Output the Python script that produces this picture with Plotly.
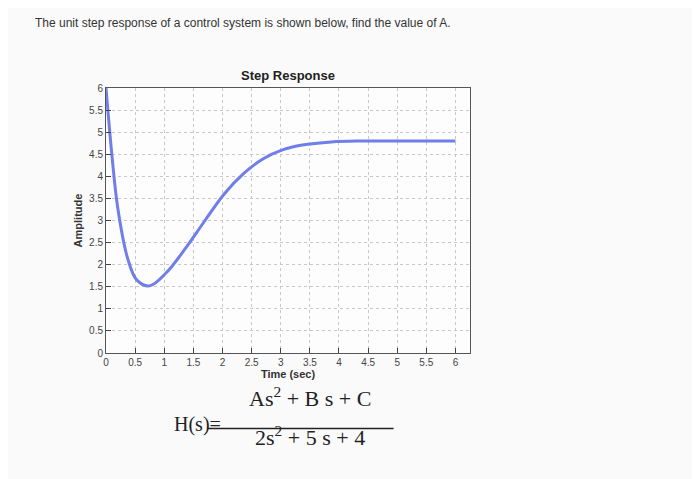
import plotly.graph_objects as go

t = [0, 0.1, 0.2, 0.37, 0.53, 0.75, 1.03, 1.37, 1.7, 2.03, 2.37, 2.7, 3.03, 3.37, 3.87, 4.37, 5.03, 6.0]
y = [6.0, 4.5, 3.3, 2.15, 1.65, 1.52, 1.81, 2.38, 3.0, 3.6, 4.07, 4.4, 4.6, 4.71, 4.78, 4.8, 4.8, 4.8]
ticks = [0, 0.5, 1, 1.5, 2, 2.5, 3, 3.5, 4, 4.5, 5, 5.5, 6]
ticklabels = ["0", "0.5", "1", "1.5", "2", "2.5", "3", "3.5", "4", "4.5", "5", "5.5", "6"]

fig = go.Figure(go.Scatter(x=t, y=y, mode="lines", line=dict(color="#6f7ee8", width=3, shape="spline")))
ax = dict(tickvals=ticks, ticktext=ticklabels, showgrid=True, gridcolor="#c8c8c8", griddash="dot",
          showline=True, linecolor="#555", mirror=True, zeroline=False, ticks="inside",
          tickfont=dict(size=10, color="#444", family="Liberation Sans"))
fig.update_layout(
    width=700, height=479, margin=dict(l=98, r=238, t=80, b=134),
    paper_bgcolor="#fafafa", plot_bgcolor="#fdfdfd", showlegend=False,
    xaxis=dict(range=[0, 6.25], title=dict(text="<b>Time (sec)</b>", font=dict(size=11, color="#333"), standoff=2), **ax),
    yaxis=dict(range=[0, 6], title=dict(text="<b>Amplitude</b>", font=dict(size=11, color="#333"), standoff=4), **ax),
    font=dict(family="Liberation Sans"),
    annotations=[
        dict(text="The unit step response of a control system is shown below, find the value of A.", x=-0.2, y=1.28,
             xref="paper", yref="paper", showarrow=False, xanchor="left", yanchor="top", font=dict(size=12, color="#333")),
        dict(text="<b>Step Response</b>", x=0.5, y=1.01, xref="paper", yref="paper", showarrow=False, yanchor="bottom",
             font=dict(size=13, color="#222")),
        dict(text="H(s)=", x=0.18, y=-0.32, xref="paper", yref="paper", showarrow=False,
             font=dict(size=20, color="#222", family="Liberation Serif")),
        dict(text="As<sup>2</sup> + B s + C", x=0.56, y=-0.225, xref="paper", yref="paper", showarrow=False,
             font=dict(size=22, color="#222", family="Liberation Serif")),
        dict(text="2s<sup>2</sup> + 5 s + 4", x=0.56, y=-0.375, xref="paper", yref="paper", showarrow=False,
             font=dict(size=22, color="#222", family="Liberation Serif")),
    ],
    shapes=[dict(type="line", xref="paper", yref="paper", x0=0.28, x1=0.79, y0=-0.285, y1=-0.285,
                 line=dict(color="#222", width=1.5))],
)
fig.write_html("out.html")
